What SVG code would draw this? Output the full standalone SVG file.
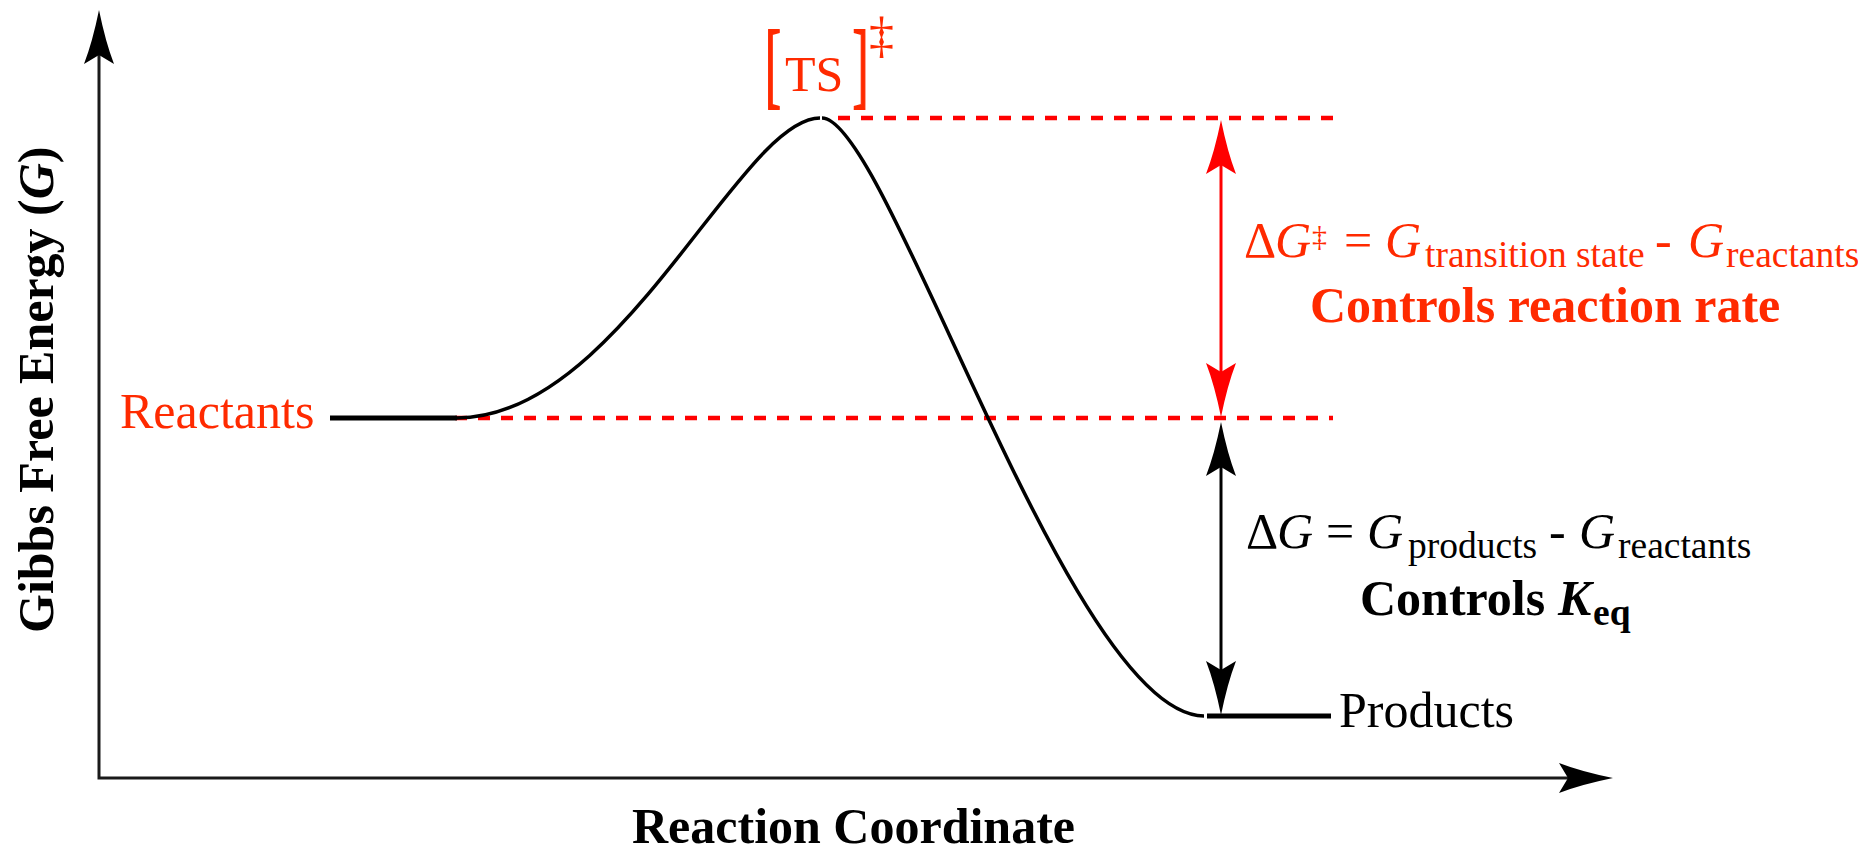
<svg xmlns="http://www.w3.org/2000/svg" width="1858" height="865" viewBox="0 0 1858 865">
  <style>
    .serif { font-family: "Liberation Serif", "Times New Roman", serif; }
    .t50 { font-size: 50px; }
    .sub { font-size: 37.5px; }
    .red { fill: #ff2a00; }
    .blk { fill: #000; }
    .b { font-weight: bold; }
    .i { font-style: italic; }
    .brk { fill: #ff2a00; stroke: #ff2a00; stroke-width: 1.2; }
    .dash { stroke: #ff0000; stroke-width: 4.5; stroke-dasharray: 12 11; fill: none; }
    .curve { stroke: #000; stroke-width: 3.5; fill: none; }
    .level { stroke: #000; stroke-width: 5; fill: none; }
  </style>
  <defs>
    <marker id="ahK" markerUnits="userSpaceOnUse" viewBox="0 0 54 30" refX="9" refY="15" markerWidth="54" markerHeight="30" orient="auto-start-reverse">
      <path d="M54,15 Q22,8.5 0,0 L9,15 L0,30 Q22,21.5 54,15 Z" fill="#000"/>
    </marker>
    <marker id="ahR" markerUnits="userSpaceOnUse" viewBox="0 0 54 30" refX="9" refY="15" markerWidth="54" markerHeight="30" orient="auto-start-reverse">
      <path d="M54,15 Q22,8.5 0,0 L9,15 L0,30 Q22,21.5 54,15 Z" fill="#ff0000"/>
    </marker>
  </defs>
  <rect width="1858" height="865" fill="#fff"/>

  <g id="axes">
    <path d="M99,55 V778 H1568" stroke="#1a1a1a" stroke-width="3" fill="none" marker-start="url(#ahK)" marker-end="url(#ahK)"/>
    <text class="serif t50 b blk" transform="translate(53,633) rotate(-90)">Gibbs Free Energy (<tspan class="i">G</tspan>)</text>
    <text class="serif t50 b blk" x="632" y="843">Reaction Coordinate</text>
  </g>

  <g id="guides">
    <path class="dash" d="M838,118 H1333"/>
    <path class="dash" d="M455,418 H1333"/>
  </g>

  <g id="energy-curve">
    <path class="curve" d="M457,418 C620,418 740,118 820,118"/>
    <path class="curve" d="M822,118 C888,118 1070,716 1204,716"/>
  </g>

  <g id="reactants">
    <path class="level" d="M330,418 H457"/>
    <text class="serif t50 red" x="120" y="428">Reactants</text>
  </g>

  <g id="transition-state">
    <text class="serif brk" font-size="60" transform="translate(765,96) scale(0.8,1.6)">[</text>
    <text class="serif t50 red" x="785" y="91">TS</text>
    <text class="serif brk" font-size="60" transform="translate(852.5,96) scale(0.8,1.6)">]</text>
    <text class="serif red" font-size="50" x="869" y="52">‡</text>
  </g>

  <g id="products">
    <path class="level" d="M1207,716 H1331"/>
    <text class="serif t50 blk" x="1339" y="727">Products</text>
  </g>

  <g id="connectors">
    <line x1="1221" y1="165" x2="1221" y2="372" stroke="#ff0000" stroke-width="3" marker-start="url(#ahR)" marker-end="url(#ahR)"/>
    <line x1="1221" y1="467" x2="1221" y2="670" stroke="#000" stroke-width="3" marker-start="url(#ahK)" marker-end="url(#ahK)"/>
  </g>

  <g id="activation-label">
    <text class="serif t50 red"><tspan x="1244" y="257">Δ</tspan><tspan class="i" x="1275" y="257">G</tspan><tspan font-size="30" x="1312" y="246">‡</tspan><tspan x="1344" y="257">=</tspan><tspan class="i" x="1385" y="257">G</tspan><tspan class="sub" x="1425" y="267">transition state</tspan><tspan x="1655" y="257">-</tspan><tspan class="i" x="1688" y="257">G</tspan><tspan class="sub" x="1726" y="267">reactants</tspan></text>
    <text class="serif t50 b red" x="1310" y="322">Controls reaction rate</text>
  </g>

  <g id="free-energy-label">
    <text class="serif t50 blk"><tspan x="1246" y="548">Δ</tspan><tspan class="i" x="1277" y="548">G</tspan><tspan x="1326" y="548">=</tspan><tspan class="i" x="1367" y="548">G</tspan><tspan class="sub" x="1408" y="558">products</tspan><tspan x="1549" y="548">-</tspan><tspan class="i" x="1579" y="548">G</tspan><tspan class="sub" x="1618" y="558">reactants</tspan></text>
    <text class="serif t50 b blk"><tspan x="1360" y="615">Controls</tspan><tspan class="i" x="1558" y="615">K</tspan><tspan class="sub" x="1593" y="625">eq</tspan></text>
  </g>
</svg>
